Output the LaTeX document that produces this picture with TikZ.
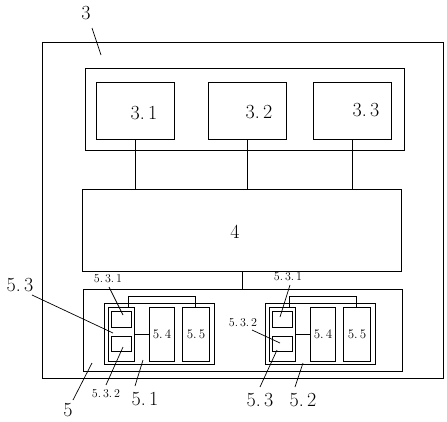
\documentclass[tikz,border=0pt]{standalone}
\usetikzlibrary{math}

\tikzset{
  box/.style={draw, line width=1pt, inner sep=0pt, anchor=north west},
  sz/.style 2 args={minimum width=#1, minimum height=#2},
  big/.style={inner sep=0pt, font=\fontsize{20}{20}\selectfont},
  mid/.style={inner sep=0pt, font=\fontsize{13}{13}\selectfont},
  tiny/.style={inner sep=0pt, font=\fontsize{12}{12}\selectfont},
  lead/.style={line width=0.7pt}
}

\begin{document}
\begin{tikzpicture}[x=1pt,y=-1pt]
\useasboundingbox (0,0) rectangle (447,421);

\tikzmath{
\dx = 161;% offset of second module
}

%frame 3 and upper unit
\node[box, sz={401}{336}] (sys) at (42,42) {};
\node[box, sz={319}{82}] (top) at (85,68) {};
\node[box, sz={78}{57}] (b31) at (96,82) {};
\node[box, sz={78}{57}] (b32) at (208,82) {};
\node[box, sz={78}{57}] (b33) at (313,82) {};
\node[big] (t31) at (144,113) {3.\,1};
\node[big] (t32) at (259,112) {3.\,2};
\node[big] (t33) at (366,110) {3.\,3};

%controller 4 and unit 5
\node[box, sz={319}{82}] (ctl) at (82,189) {};
\node[big] (t4) at (235,232) {4};
\node[box, sz={319}{82}] (bus) at (83,289) {};

\foreach \b in {b31,b32,b33}
  \draw[line width=1pt] (\b.south) -- (\b.south |- ctl.north);
\draw[line width=1pt] (ctl.south) -- (ctl.south |- bus.north);

%modules 5.1 and 5.2
\foreach \i in {1,2}{
 \tikzmath{\x = (\i-1)*\dx;}
 \node[box, sz={110}{61}] (m\i) at (104+\x,303) {};
 \node[box, sz={26}{54}] (m\i-com) at (108+\x,307) {};
 \node[box, sz={20}{16}] (m\i-c1) at (111+\x,311) {};
 \node[box, sz={20}{15}] (m\i-c2) at (111+\x,336) {};
 \node[box, sz={25}{54}] (m\i-pw) at (149+\x,307) {};
 \node[box, sz={27}{54}] (m\i-st) at (182+\x,307) {};
 \node[mid] at (m\i-pw.center) {5.\,4};
 \node[mid] at (m\i-st.center) {5.\,5};
 \draw[line width=1pt] (m\i-com.east) -- (m\i-pw.west);
 \draw[line width=1pt] ([xshift=-7pt]m\i-com.north east) -- ++(0,-11) -| ([xshift=-1pt]m\i-st.north);
}

%labels and leaders
\node[big] (l3) at (86,13) {3};
\coordinate (s3) at (92,28); \coordinate (e3) at (101,55);
\draw[lead] (s3) -- (e3);

\node[big] (l53a) at (20,285) {5.\,3};
\coordinate (s53a) at (32,295); \coordinate (e53a) at (113,333);
\draw[lead] (s53a) -- (e53a);

\node[tiny] (l531a) at (108,279) {5.\,3.\,1};
\coordinate (s531a) at (109,287); \coordinate (e531a) at (123,315);
\draw[lead] (s531a) -- (e531a);

\node[tiny] (l532a) at (106,394) {5.\,3.\,2};
\coordinate (s532a) at (106,385); \coordinate (e532a) at (123,347);
\draw[lead] (s532a) -- (e532a);

\node[big] (l5) at (68,410) {5};
\coordinate (s5) at (73,400); \coordinate (e5) at (92,363);
\draw[lead] (s5) -- (e5);

\node[big] (l51) at (145,399) {5.\,1};
\coordinate (s51) at (135,386); \coordinate (e51) at (143,360);
\draw[lead] (s51) -- (e51);

\node[tiny] (l531b) at (288,277) {5.\,3.\,1};
\coordinate (s531b) at (290,285); \coordinate (e531b) at (280,317);
\draw[lead] (s531b) -- (e531b);

\node[tiny] (l532b) at (243,323) {5.\,3.\,2};
\coordinate (s532b) at (252,330); \coordinate (e532b) at (280,343);
\draw[lead] (s532b) -- (e532b);

\node[big] (l53b) at (260,400) {5.\,3};
\coordinate (s53b) at (260,387); \coordinate (e53b) at (277,350);
\draw[lead] (s53b) -- (e53b);

\node[big] (l52) at (303,400) {5.\,2};
\coordinate (s52) at (295,387); \coordinate (e52) at (303,363);
\draw[lead] (s52) -- (e52);

\end{tikzpicture}
\end{document}
